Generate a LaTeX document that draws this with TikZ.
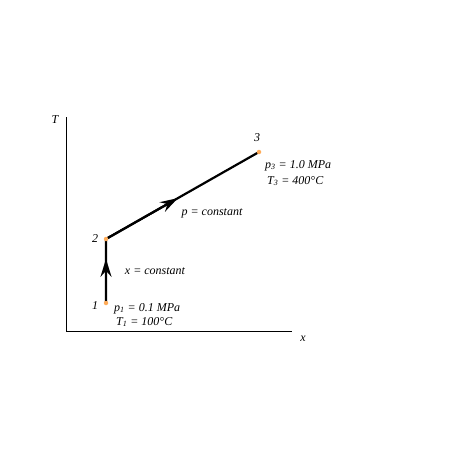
\documentclass[tikz,border=0pt]{standalone}
\usepackage{fontspec}
\setmainfont{Liberation Serif}
\usetikzlibrary{arrows.meta,calc}
\begin{document}
\begin{tikzpicture}[x=1pt,y=-1pt,
  lbl/.style={font=\itshape\fontsize{12}{14}\selectfont, inner sep=0pt},
  pt/.style={circle, fill=orange!65!white, inner sep=0pt, minimum size=4.5pt},
  axis/.style={line width=0.9pt},
  proc/.style={line width=2.2pt},
  head/.style={line width=2.2pt, -{Stealth[length=18pt,width=11pt,inset=6pt]}}]
\useasboundingbox (0,0) rectangle (450,450);
\coordinate (o) at (66,331);
\coordinate (ytop) at (66,117);
\coordinate (xend) at (292,331);
\draw[axis] (ytop) -- (o) -- (xend);
\node[lbl] (Tl) at (55,120) {T};
\node[lbl] (xl) at (303,339) {x};
\coordinate (c1) at (106,303);
\coordinate (c2) at (106,239);
\coordinate (c3) at (259,152);
\draw[proc] (c1) -- (c2) -- (c3);
\draw[head] (c1) -- ($(c1)!0.69!(c2)$);
\draw[head] (c2) -- ($(c2)!0.47!(c3)$);
\node[pt] (p1) at (c1) {};
\node[pt] (p2) at (c2) {};
\node[pt] (p3) at (c3) {};
\node[lbl] (n1) at (95,306) {1};
\node[lbl] (n2) at (95,239) {2};
\node[lbl] (n3) at (257,138) {3};
\node[lbl, anchor=base west] (s1a) at (114,311) {p\textsubscript{1} = 0.1 MPa};
\node[lbl, anchor=base west] (s1b) at (116,325) {T\textsubscript{1} = 100°C};
\node[lbl, anchor=base west] (s3a) at (265,168) {p\textsubscript{3} = 1.0 MPa};
\node[lbl, anchor=base west] (s3b) at (267,184) {T\textsubscript{3} = 400°C};
\node[lbl] (xc) at (155,271) {x = constant};
\node[lbl] (pc) at (212,213) {p = constant};
\end{tikzpicture}
\end{document}
